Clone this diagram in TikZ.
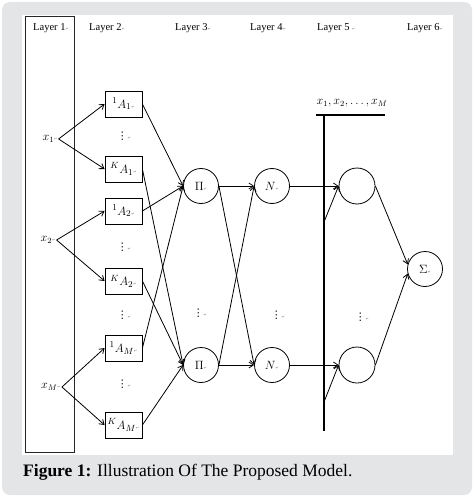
\documentclass[tikz,border=0pt]{standalone}
\usepackage{fontspec}
\setmainfont{Liberation Serif}
\newfontfamily\markfont{DejaVu Sans}
\usetikzlibrary{arrows.meta,positioning}
\definecolor{bggray}{HTML}{E4E5E7}
\newcommand{\pmk}{{\markfont\fontsize{4}{4}\selectfont\textcolor{gray}{↵}}}
\newcommand{\vdotsmk}{{\markfont\fontsize{10.5}{10.5}\selectfont ⋮}\pmk}
\tikzset{node distance=71pt, % distance between the Pi and N columns
        layerbox/.style={ % frame of one layer
            draw=gray!75, double=white, double distance=1.1pt, line width=0.5pt},
        layertext/.style={anchor=north west, inner sep=0pt,
            font=\fontsize{10.5}{11}\selectfont},
        inp/.style={inner sep=1pt, font=\fontsize{12}{13}\selectfont},
        mf/.style={ % membership function boxes
            draw, line width=0.8pt, minimum width=37pt, minimum height=26pt,
            inner sep=0pt, font=\fontsize{12.5}{13}\selectfont},
        neuron/.style={circle, draw, line width=0.8pt, minimum size=35pt,
            inner sep=0pt, font=\fontsize{12}{13}\selectfont},
        vdot/.style={inner sep=0pt},
        busline/.style={line width=1.8pt},
        every edge/.style={ % arrows between the layers
            draw,
            -{Straight Barb[length=4.5pt,width=6pt]},
            line width=0.8pt}
        }

\begin{document}
\begin{tikzpicture}[x=1pt,y=-1pt]
    \useasboundingbox (0,0) rectangle (474,497);
    \fill[bggray, rounded corners=8pt] (2,2) rectangle (472,495);
    \fill[white] (22,15) rectangle (453,455);

    % layers
    \draw[draw=black!85, line width=1pt] (25,17) rectangle (74,452);
    \node[layertext] (lab1) at (33,23) {Layer 1\pmk};
    \foreach \n/\xa/\xb/\t in {2/81/159/{Layer 2\pmk}, 3/167/235/{Layer 3\pmk},
            4/242/304/{Layer 4\pmk}, 5/309/393/{Layer 5 \pmk}, 6/399/451/{Layer 6\pmk}} {
        \draw[layerbox] (\xa,17) rectangle (\xb,452);
        \node[layertext] (lab\n) at (\xa+8,23) {\t};
    }

    % inputs
    \node[inp] (x1) at (50,139) {$x_1$\pmk};
    \node[inp] (x2) at (48,240) {$x_2$\pmk};
    \node[inp] (xm) at (51,387) {$x_M$\pmk};

    % membership functions
    \node[mf] (a11) at (123.5,104) {${}^{1}A_{1}$\pmk};
    \node[mf] (ak1) at (123.5,169) {${}^{K}A_{1}$\pmk};
    \node[mf] (a12) at (123.5,211) {${}^{1}A_{2}$\pmk};
    \node[mf] (ak2) at (123.5,281) {${}^{K}A_{2}$\pmk};
    \node[mf] (a1m) at (123.5,348) {${}^{1}A_{M}$\pmk};
    \node[mf] (akm) at (123.5,425) {${}^{K}A_{M}$\pmk};

    \node[vdot] (d1) at (124,136) {\vdotsmk};
    \node[vdot] (d2) at (124,247) {\vdotsmk};
    \node[vdot] (d3) at (124,315) {\vdotsmk};
    \node[vdot] (d4) at (124,384) {\vdotsmk};

    % rules, normalisation, consequents, sum
    \node[neuron] (pa) at (201,186) {$\Pi$\pmk};
    \node[neuron] (pb) at (201,365) {$\Pi$\pmk};
    \node[neuron] (na) [right of=pa] {$N$\pmk};
    \node[neuron] (nb) [right of=pb] {$N$\pmk};
    \node[neuron, minimum size=36pt, node distance=85pt] (ca) [right of=na] {};
    \node[neuron, minimum size=36pt, node distance=85pt] (cb) [right of=nb] {};
    \node[neuron] (sg) at (425,269) {$\Sigma$\pmk};

    \node[vdot] (d5) at (200,313) {\vdotsmk};
    \node[vdot] (d6) at (278,315) {\vdotsmk};
    \node[vdot] (d7) at (362,317) {\vdotsmk};

    % inputs fed to layer 5
    \node[inp] (xs) at (352,103) {$x_1, x_2, \ldots, x_M$};
    \coordinate (bl) at (316,115);
    \coordinate (br) at (385,115);
    \coordinate (bt) at (324,115);
    \coordinate (bb) at (324,431);
    \coordinate (ta) at (324,222);
    \coordinate (tb) at (324,402);
    \draw[busline] (bl) -- (br) (bt) -- (bb);

    \draw
        (x1.east)
            edge (a11.west)
            edge (ak1.west)
        (x2.east)
            edge (a12.west)
            edge (ak2.west)
        (xm.east)
            edge (a1m.west)
            edge (akm.west)
        (a11.east) edge (pa.west)
        (a12.east) edge (pa.west)
        (a1m.east) edge (pa.west)
        (ak1.east) edge (pb.west)
        (ak2.east) edge (pb.west)
        (akm.east) edge (pb.west)
        (pa.east)
            edge (na.west)
            edge (nb.west)
        (pb.east)
            edge (nb.west)
            edge (na.west)
        (na.east) edge (ca.west)
        (nb.east) edge (cb.west)
        (ta) edge (ca.west)
        (tb) edge (cb.west)
        (ca.east) edge (sg.165)
        (cb.east) edge (sg.195);

    \node[anchor=base west, inner sep=0pt, font=\fontsize{17.5}{20}\selectfont] (cap)
        at (23,476) {\textbf{Figure 1:} Illustration Of The Proposed Model.};
\end{tikzpicture}
\end{document}
